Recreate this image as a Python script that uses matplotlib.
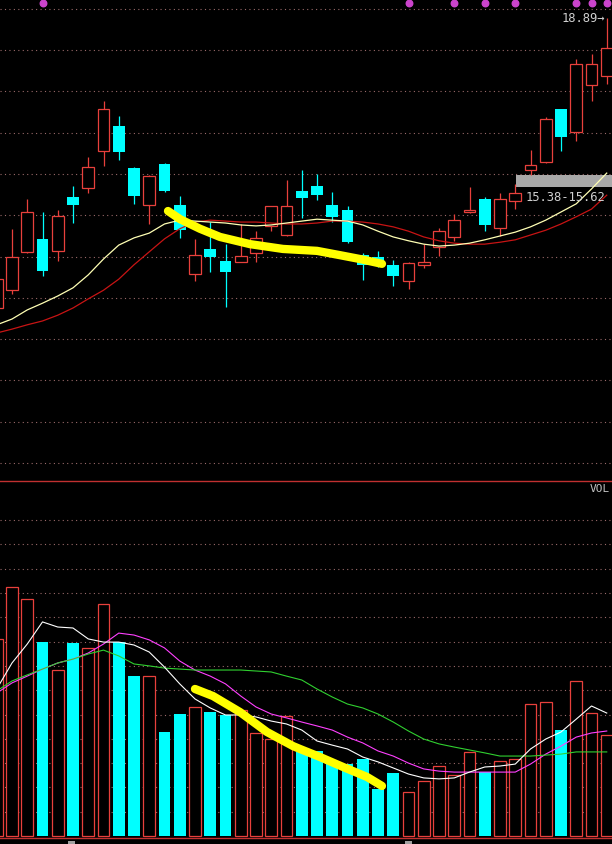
import numpy as np
import matplotlib
matplotlib.use('Agg')
import matplotlib.pyplot as plt
from matplotlib.patches import Rectangle

# daily candles (price)
opens = [12.85, 13.22, 14.02, 14.29, 14.04, 15.16, 15.35, 16.12, 16.64, 15.77,
         14.99, 15.85, 14.99, 13.56, 14.08, 13.83, 13.81, 14.00, 14.56, 14.37,
         15.29, 15.39, 14.99, 14.89, 13.95, 13.91, 13.75, 13.41, 13.75, 14.12,
         14.33, 14.85, 15.12, 14.52, 15.08, 15.72, 15.89, 17.00, 16.52, 17.49, 17.68]
highs = [13.62, 14.50, 15.12, 14.85, 14.89, 15.39, 16.00, 17.16, 16.85, 15.78,
         15.61, 15.87, 15.18, 14.29, 14.64, 14.18, 14.60, 14.45, 14.98, 15.52,
         15.72, 15.64, 15.27, 14.97, 14.00, 14.04, 13.85, 13.80, 14.18, 14.52,
         14.81, 15.37, 15.16, 15.25, 15.43, 16.14, 16.83, 17.00, 18.04, 18.14, 18.89]
lows = [12.79, 13.14, 14.00, 13.52, 13.83, 14.62, 15.25, 15.81, 15.93, 15.02,
        14.60, 15.27, 14.31, 13.41, 13.60, 12.87, 13.80, 13.81, 14.45, 14.36,
        14.72, 15.10, 14.64, 14.20, 13.43, 13.70, 13.31, 13.25, 13.68, 13.93,
        14.25, 14.83, 14.45, 14.35, 14.91, 15.62, 15.88, 16.12, 16.33, 17.16, 17.52]
closes = [13.45, 13.91, 14.85, 13.62, 14.77, 14.99, 15.79, 17.00, 16.10, 15.18,
          15.60, 15.29, 14.47, 13.95, 13.91, 13.60, 13.93, 14.31, 14.97, 14.97,
          15.14, 15.20, 14.75, 14.22, 13.75, 13.79, 13.52, 13.79, 13.81, 14.45,
          14.68, 14.89, 14.58, 15.12, 15.25, 15.83, 16.79, 16.41, 17.93, 17.93, 18.27]

# price moving averages
ma_short = [12.50, 12.62, 12.81, 12.95, 13.10, 13.27, 13.54, 13.87, 14.16, 14.31,
            14.41, 14.60, 14.68, 14.66, 14.64, 14.62, 14.58, 14.56, 14.58, 14.62,
            14.66, 14.70, 14.68, 14.66, 14.58, 14.45, 14.33, 14.25, 14.18, 14.14,
            14.16, 14.20, 14.27, 14.35, 14.43, 14.54, 14.68, 14.85, 15.02, 15.33, 15.66]
ma_long = [12.33, 12.41, 12.50, 12.58, 12.70, 12.85, 13.04, 13.22, 13.45, 13.75,
           14.02, 14.29, 14.50, 14.64, 14.68, 14.66, 14.64, 14.64, 14.62, 14.60,
           14.60, 14.62, 14.66, 14.66, 14.64, 14.60, 14.54, 14.45, 14.33, 14.25,
           14.20, 14.18, 14.18, 14.22, 14.27, 14.37, 14.47, 14.60, 14.75, 14.91, 15.20]

# volume (10k lots) and its averages
volume = [8.11, 10.25, 9.75, 7.98, 6.83, 7.94, 7.74, 9.55, 7.98, 6.58,
          6.58, 4.28, 5.02, 5.31, 5.10, 4.98, 5.19, 4.24, 3.99, 4.94,
          3.46, 3.50, 2.96, 2.96, 3.17, 1.93, 2.59, 1.81, 2.26, 2.88,
          2.51, 3.46, 2.63, 3.09, 3.17, 5.43, 5.51, 4.36, 6.38, 5.06, 4.16]
vol_ma5 = [6.05, 7.12, 7.90, 8.81, 8.60, 8.56, 8.11, 7.98, 7.98, 7.86,
           7.57, 6.95, 6.26, 5.64, 5.27, 4.98, 4.98, 4.90, 4.73, 4.61,
           4.36, 3.91, 3.74, 3.58, 3.25, 3.05, 2.80, 2.55, 2.39, 2.35,
           2.39, 2.63, 2.84, 2.88, 2.96, 3.58, 3.99, 4.28, 4.81, 5.35, 5.06]
vol_ma10 = [5.88, 6.30, 6.58, 6.87, 7.12, 7.28, 7.53, 7.90, 8.35, 8.27,
            8.07, 7.74, 7.20, 6.83, 6.58, 6.26, 5.76, 5.31, 5.02, 4.86,
            4.69, 4.53, 4.36, 4.07, 3.83, 3.50, 3.29, 3.00, 2.76, 2.67,
            2.63, 2.63, 2.63, 2.63, 2.63, 2.96, 3.37, 3.70, 4.07, 4.24, 4.32]
vol_ma20 = [5.97, 6.38, 6.63, 6.87, 7.12, 7.28, 7.49, 7.65, 7.41, 7.08,
            7.00, 6.91, 6.87, 6.83, 6.83, 6.83, 6.83, 6.79, 6.75, 6.58,
            6.42, 6.05, 5.72, 5.43, 5.27, 5.02, 4.69, 4.32, 3.99, 3.79,
            3.66, 3.54, 3.42, 3.29, 3.29, 3.29, 3.33, 3.37, 3.46, 3.46, 3.46]

signal_days = [3, 27, 30, 32, 34, 38, 39, 40]
zone_low, zone_high = 15.38, 15.62

# hand-drawn yellow strokes (day index, value)
stroke_price_x = [11.23, 12.02, 13.33, 14.64, 16.61, 18.77, 21.0, 22.51, 23.82, 25.26]
stroke_price_y = [14.87, 14.70, 14.50, 14.33, 14.18, 14.08, 14.04, 13.95, 13.87, 13.77]
stroke_vol_x = [13.0, 14.18, 15.95, 17.72, 19.43, 19.89, 21.2, 22.71, 24.28, 25.26]
stroke_vol_y = [6.05, 5.76, 5.10, 4.28, 3.70, 3.58, 3.25, 2.84, 2.43, 2.06]

RED = '#e8403c'
CYAN = '#00ffff'
GRID = '#9a6a6a'

o = np.array(opens)
h = np.array(highs)
l = np.array(lows)
c = np.array(closes)
x = np.arange(len(o))
up = c >= o
w = 0.78

fig = plt.figure(figsize=(6.12, 8.45), dpi=100, facecolor='black')
ax = fig.add_axes([0, 363.5 / 845, 1, 481.5 / 845], facecolor='black')
axv = fig.add_axes([0, 6 / 845, 1, 357.5 / 845], facecolor='black')

xlim = (3.25 / 15.25, 615.25 / 15.25)

# ---- price panel ----
ax.set_xlim(*xlim)
ax.set_ylim(9.257, 19.286)
for lev in 19.08 - 0.86 * np.arange(12):
    ax.axhline(lev, color=GRID, lw=0.8, ls=(0, (1, 3)), zorder=0)

ax.add_patch(Rectangle((34.05, zone_low), xlim[1] - 34.05, zone_high - zone_low,
                       facecolor='#a8a8a8', edgecolor='none', zorder=1))

body_lo = np.minimum(o, c)
body_hi = np.maximum(o, c)
ax.vlines(x[up], body_hi[up], h[up], color=RED, lw=0.9, zorder=2)
ax.vlines(x[up], l[up], body_lo[up], color=RED, lw=0.9, zorder=2)
ax.bar(x[up], body_hi[up] - body_lo[up], w, bottom=body_lo[up],
       facecolor='black', edgecolor=RED, linewidth=0.9, zorder=2)
ax.vlines(x[~up], l[~up], h[~up], color=CYAN, lw=0.9, zorder=2)
ax.bar(x[~up], body_hi[~up] - body_lo[~up], w, bottom=body_lo[~up],
       color=CYAN, linewidth=0, zorder=2)

ax.plot(x, ma_long, color='#c81414', lw=0.9, zorder=3)
ax.plot(x, ma_short, color='#ffffb4', lw=0.9, zorder=3)

ax.plot(stroke_price_x, stroke_price_y, color='#ffff00', lw=6,
        solid_capstyle='round', solid_joinstyle='round', zorder=5)

ax.scatter(signal_days, [19.2] * len(signal_days), s=22, color='#cc44cc',
           zorder=4, clip_on=False)

ax.text(39.89, 18.91, f'{max(highs):.2f}\u2192', ha='right', va='center',
        color='#d0d0d0', fontsize=8.7, family='DejaVu Sans Mono', zorder=6)
ax.text(34.70, 15.18, f'{zone_low:.2f}-{zone_high:.2f}', ha='left', va='center',
        color='#d0d0d0', fontsize=8.7, family='DejaVu Sans Mono', zorder=6)

# ---- volume panel ----
v = np.array(volume)
axv.set_xlim(*xlim)
axv.set_ylim(-2 / 24.3, -2 / 24.3 + 357.5 / 24.3)
for lev in range(1, 14):
    axv.axhline(lev, color=GRID, lw=0.8, ls=(0, (1, 3)), zorder=0)
axv.bar(x[up], v[up], w, facecolor='black', edgecolor=RED, linewidth=0.9, zorder=2)
axv.bar(x[~up], v[~up], w, color=CYAN, linewidth=0, zorder=2)
axv.plot(x, vol_ma10, color='#ff40ff', lw=0.8, zorder=3)
axv.plot(x, vol_ma20, color='#30d030', lw=0.8, zorder=3)
axv.plot(x, vol_ma5, color='#ffffff', lw=0.8, zorder=3)
axv.plot(stroke_vol_x, stroke_vol_y, color='#ffff00', lw=6,
         solid_capstyle='round', solid_joinstyle='round', zorder=5)

for a in (ax, axv):
    a.set_xticks([])
    a.set_yticks([])
    for s in a.spines.values():
        s.set_visible(False)
for s in ('top', 'bottom'):
    axv.spines[s].set_visible(True)
    axv.spines[s].set_color('#c03030')
    axv.spines[s].set_linewidth(1.0)

fig.text(610 / 612, 1 - 489 / 845, 'VOL', ha='right', va='center',
         color='#c0c0c0', fontsize=8, family='DejaVu Sans Mono')
for px in (68, 405):
    fig.add_artist(Rectangle((px / 612, 0), 7 / 612, 3 / 845,
                             transform=fig.transFigure, facecolor='#a0a0a0',
                             edgecolor='none'))

fig.savefig('out.png', dpi=100, facecolor='black')
